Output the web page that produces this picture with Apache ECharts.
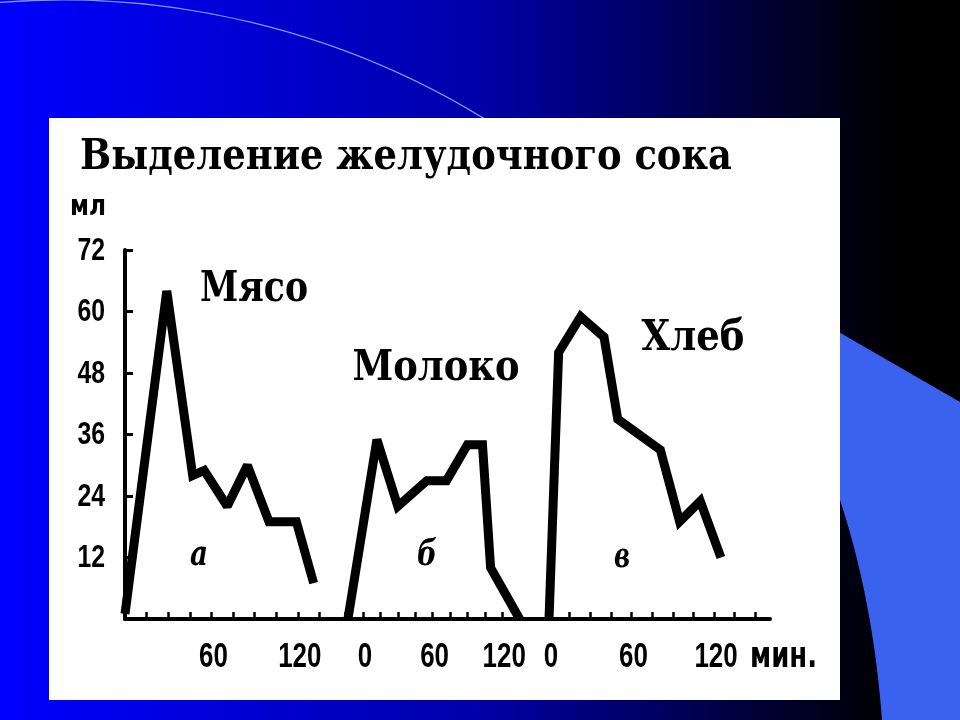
<!DOCTYPE html>
<html><head><meta charset="utf-8">
<script src="https://cdn.jsdelivr.net/npm/echarts@6/dist/echarts.min.js"></script>
<style>html,body{margin:0;padding:0;background:#000;}#c{width:960px;height:720px;}</style>
</head><body><div id="c"></div>
<script>
// ---- data ----
const title = 'Выделение желудочного сока';
const yUnit = 'мл';
const xUnit = 'мин.';
const foods = ['Мясо', 'Молоко', 'Хлеб'];
const panelLetters = ['а', 'б', 'в'];
const yTickValues = [12, 24, 36, 48, 60, 72];
const meatMinutes = [0, 29, 47, 55, 71, 85, 100, 119, 131];
const meatMl = [1, 64, 28, 29, 22, 30, 19, 19, 7];
const milkMinutes = [-13, 12, 30, 55, 72, 90, 103, 110, 135];
const milkMl = [0, 35, 22, 27, 27, 34, 34, 10, 0];
const breadMinutes = [0, 7, 23, 40, 50, 81, 95, 110, 125];
const breadMl = [0, 52, 59, 55, 39, 33, 19, 23, 12];
const meatXLabels = [60, 120];
const milkXLabels = [0, 60, 120];
const breadXLabels = [0, 60, 120];
const minorStep = 15;

// ---- layout ----
const AXIS_Y = 619, TOP_Y = 250;
const panels = [
  { left: 125, width: 215, zeroPx: 125, pxPerMin: 1.44, mins: meatMinutes, vals: meatMl, labels: meatXLabels },
  { left: 340, width: 190, zeroPx: 363, pxPerMin: 1.16, mins: milkMinutes, vals: milkMl, labels: milkXLabels },
  { left: 530, width: 240, zeroPx: 549, pxPerMin: 1.375, mins: breadMinutes, vals: breadMl, labels: breadXLabels }
];
const mctx = document.createElement('canvas').getContext('2d');
function fit(text, font, target) { mctx.font = font; return target / mctx.measureText(text).width; }

const grids = [], xAxes = [], yAxes = [], series = [];
panels.forEach((p, i) => {
  const min = (p.left - p.zeroPx) / p.pxPerMin;
  const max = (p.left + p.width - p.zeroPx) / p.pxPerMin;
  const ticks = [];
  for (let v = Math.ceil(min / minorStep) * minorStep; v <= max; v += minorStep) ticks.push(v);
  grids.push({ left: p.left, width: p.width, top: TOP_Y, height: AXIS_Y - TOP_Y, outerBoundsMode: 'none', containLabel: false });
  xAxes.push({
    type: 'value', gridIndex: i, min: min, max: max,
    axisLine: { show: true, onZero: false, lineStyle: { color: '#000', width: 4 } },
    axisTick: { show: true, inside: true, length: 7, customValues: ticks, lineStyle: { color: '#000', width: 2.5 } },
    axisLabel: { show: false },
    splitLine: { show: false }
  });
  yAxes.push({
    type: 'value', gridIndex: i, min: 0, max: 72, interval: 12, show: i === 0,
    axisLine: { show: true, onZero: false, lineStyle: { color: '#000', width: 4 } },
    axisTick: { show: true, inside: true, length: 8, lineStyle: { color: '#000', width: 3 } },
    axisLabel: { show: false },
    splitLine: { show: false }
  });
  series.push({
    type: 'line', xAxisIndex: i, yAxisIndex: i, name: foods[i],
    data: p.mins.map((m, k) => [m, p.vals[k]]),
    symbol: 'none', showSymbol: false, clip: false, z: 5,
    lineStyle: { color: '#000', width: 9, join: 'miter', miterLimit: 2 }
  });
});

// decorative right-side shape (quadratic edge sampled)
const shapePts = [[830, 327], [960, 402], [960, 720], [882, 720]];
for (let k = 1; k <= 20; k++) {
  const t = k / 20, u = 1 - t;
  shapePts.push([u * u * 882 + 2 * u * t * 873 + t * t * 840, u * u * 720 + 2 * u * t * 600 + t * t * 500]);
}
shapePts.push([830, 480]);

const titleFont = 'bold 43px "DejaVu Serif"';
const foodFont = 'bold 42px "DejaVu Serif"';
const unitFont = 'bold 28px "DejaVu Sans"';
const minFont = 'bold 36px "DejaVu Sans"';
const letterFont = 'italic bold 36px "DejaVu Serif"';
const xNumFont = 'bold 35px "Liberation Sans"';
const yNumFont = 'bold 31px "Liberation Sans"';
function txt(text, x, y, font, w, align) {
  return { type: 'text', x: x, y: y, z: 10, scaleX: fit(text, font, w), scaleY: 1,
    style: { text: text, font: font, fill: '#000', align: align || 'center', verticalAlign: 'middle' } };
}
function numTxt(text, x, y, font, sx, align) {
  return { type: 'text', x: x, y: y, z: 10, scaleX: sx, scaleY: 1,
    style: { text: text, font: font, fill: '#000', align: align, verticalAlign: 'middle' } };
}
const graphics = [
  { type: 'rect', z: -10, shape: { x: 0, y: 0, width: 960, height: 720 },
    style: { fill: { type: 'linear', x: 0, y: 0, x2: 1, y2: 0, colorStops: [
      { offset: 0, color: '#0000ff' }, { offset: 0.5, color: '#0000a8' }, { offset: 0.93, color: '#000000' }, { offset: 1, color: '#000000' } ] } } },
  { type: 'arc', z: -9, shape: { cx: 63, cy: 807, r: 807, startAngle: -1.72, endAngle: -0.95, clockwise: true },
    style: { stroke: '#8894ff', lineWidth: 1.2, fill: null } },
  { type: 'polygon', z: -9, shape: { points: shapePts }, style: { fill: '#3a62ee' } },
  { type: 'rect', z: -8, shape: { x: 49, y: 118, width: 791, height: 582 }, style: { fill: '#ffffff' } },
  txt(title, 80, 158, titleFont, 652, 'left'),
  txt(yUnit, 70, 208, unitFont, 36, 'left'),
  txt(foods[0], 254, 290, foodFont, 108),
  txt(foods[1], 436, 369, foodFont, 167),
  txt(foods[2], 693, 339, foodFont, 103),
  txt(panelLetters[0], 199, 556, letterFont, 18),
  txt(panelLetters[1], 427, 556, letterFont, 20),
  txt(panelLetters[2], 622, 558, letterFont, 16),
  txt(xUnit, 750, 658, minFont, 67, 'left')
];

const chart = echarts.init(document.getElementById('c'), null, { renderer: 'canvas' });
chart.setOption({
  animation: false,
  backgroundColor: '#000',
  grid: grids, xAxis: xAxes, yAxis: yAxes, series: series,
  graphic: graphics
});

// tick labels placed through the axes' own scales (condensed rendering)
const labelGraphics = [];
yTickValues.forEach(v => {
  const py = chart.convertToPixel({ yAxisIndex: 0 }, v);
  labelGraphics.push(numTxt(String(v), 105, py + 1, yNumFont, 0.8, 'right'));
});
panels.forEach((p, i) => {
  p.labels.forEach(v => {
    const px = chart.convertToPixel({ xAxisIndex: i }, v);
    labelGraphics.push(numTxt(String(v), px + 2, 657, xNumFont, 0.74, 'center'));
  });
});
chart.setOption({ graphic: graphics.concat(labelGraphics) });
</script></body></html>
